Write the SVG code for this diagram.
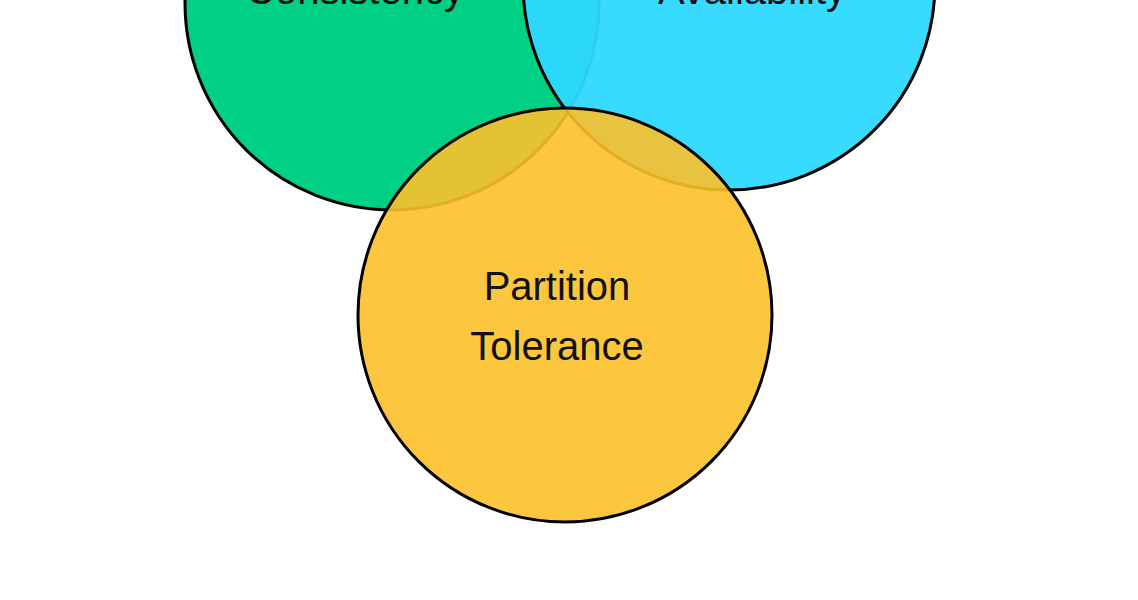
<svg xmlns="http://www.w3.org/2000/svg" width="1138" height="600" viewBox="0 0 1138 600">
<style>
.c{stroke:#000;stroke-width:3}
.t{font-family:"Comic Sans MS","Liberation Sans",sans-serif;font-size:40px;fill:#111;text-anchor:middle}
</style>
<rect width="1138" height="600" fill="#fff"/>
<g id="consistency"><circle class="c" cx="392" cy="3" r="207" fill="#00d084"/><text class="t" x="355" y="4">Consistency</text></g>
<g id="availability"><circle class="c" cx="729" cy="-16" r="206" fill="#2ed8ff" fill-opacity="0.95"/><text class="t" x="752" y="4">Availability</text></g>
<g id="partition"><circle class="c" cx="565" cy="315" r="207" fill="#fcc02a" fill-opacity="0.9"/><text class="t" x="557" y="300">Partition</text><text class="t" x="557" y="360">Tolerance</text></g>
</svg>
